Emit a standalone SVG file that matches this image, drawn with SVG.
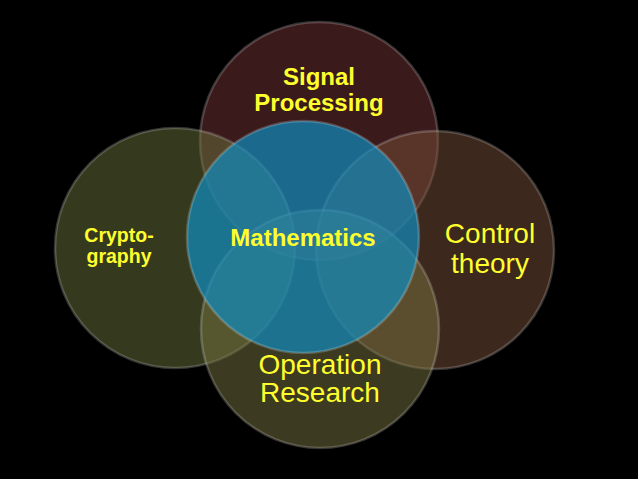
<svg xmlns="http://www.w3.org/2000/svg" width="638" height="479" viewBox="0 0 638 479">
<style>
.c{stroke:#ffffff;stroke-opacity:0.2;stroke-width:2.5}
.o{fill-opacity:0.5}
.t{fill:#ffff2e;font-family:"Liberation Sans",Arial,sans-serif;text-anchor:middle}
.b{font-weight:bold;font-size:24px}
.r{font-size:28px}
.s{font-weight:bold;font-size:19.5px}
</style>
<rect width="638" height="479" fill="#000"/>
<g id="signal-processing">
<circle class="c o" cx="319" cy="141" r="119" fill="#763436"/>
</g>
<g id="cryptography">
<circle class="c o" cx="175" cy="248" r="120" fill="#6a743e"/>
</g>
<g id="control-theory">
<circle class="c o" cx="435" cy="250" r="119" fill="#785038"/>
</g>
<g id="operation-research">
<circle class="c o" cx="320" cy="329" r="119" fill="#787440"/>
</g>
<g id="mathematics">
<circle class="c" cx="303" cy="237" r="116" fill="#0f8cbf" fill-opacity="0.7" stroke-opacity="0.25"/>
</g>
<g id="connectors"></g>
<g id="labels">
<text class="t b" x="319" y="85">Signal</text>
<text class="t b" x="319" y="111">Processing</text>
<text class="t s" x="119" y="242">Crypto-</text>
<text class="t s" x="119" y="263">graphy</text>
<text class="t b" x="303" y="246">Mathematics</text>
<text class="t r" x="490" y="243">Control</text>
<text class="t r" x="490" y="273">theory</text>
<text class="t r" x="320" y="374">Operation</text>
<text class="t r" x="320" y="402">Research</text>
</g>
</svg>
